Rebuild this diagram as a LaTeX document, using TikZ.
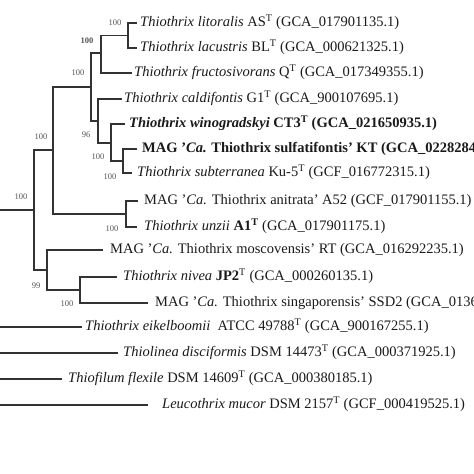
\documentclass[tikz,border=0pt]{standalone}
\usepackage{fontspec}
\setmainfont{Liberation Serif}
\definecolor{branch}{HTML}{333333}
\definecolor{txt}{HTML}{1A1A1A}
\definecolor{boot}{HTML}{555555}
\newcommand{\supT}{\textsuperscript{T}}
\begin{document}
\begin{tikzpicture}[x=1pt,y=-1pt,
  br/.style={draw=branch,line width=1.1pt},
  leaf/.style={anchor=mid west,inner sep=0pt,text=txt,font=\fontsize{14.5}{16}\selectfont},
  bs/.style={anchor=center,inner sep=0pt,text=boot,font=\fontsize{8.5}{9}\selectfont}]
\clip (0,0) rectangle (474,474);
\fill[white] (0,0) rectangle (474,474);
% leaf line ends
\coordinate (L1) at (137,23);
\coordinate (L2) at (137,48);
\coordinate (L3) at (132,73);
\coordinate (L4) at (122,99);
\coordinate (L5) at (125,124);
\coordinate (L6) at (137,149);
\coordinate (L7) at (132,173);
\coordinate (L8) at (138,201);
\coordinate (L9) at (137,227);
\coordinate (L10) at (103,250);
\coordinate (L11) at (117,277);
\coordinate (L12) at (148,303);
\coordinate (L13) at (82,327);
\coordinate (L14) at (118,353);
\coordinate (L15) at (62,379);
\coordinate (L16) at (148,405);
% internal nodes
\coordinate (n1) at (128,35.5);
\coordinate (n2) at (101,53);
\coordinate (n5) at (123,161);
\coordinate (n4) at (111,143);
\coordinate (n3) at (98,121);
\coordinate (n6) at (91,87);
\coordinate (n7) at (126,214);
\coordinate (n8) at (53,150);
\coordinate (n9) at (80,290);
\coordinate (n10) at (47,270);
\coordinate (n11) at (34,210);
\coordinate (r0) at (0,210);
\coordinate (o13) at (0,327);
\coordinate (o14) at (0,353);
\coordinate (o15) at (0,379);
\coordinate (o16) at (0,405);
% branches
\draw[br] (n1) |- (L1); \draw[br] (n1) |- (L2);
\draw[br] (n2) |- (n1); \draw[br] (n2) |- (L3);
\draw[br] (n5) |- (L6); \draw[br] (n5) |- (L7);
\draw[br] (n4) |- (L5); \draw[br] (n4) |- (n5);
\draw[br] (n3) |- (L4); \draw[br] (n3) |- (n4);
\draw[br] (n6) |- (n2); \draw[br] (n6) |- (n3);
\draw[br] (n7) |- (L8); \draw[br] (n7) |- (L9);
\draw[br] (n8) |- (n6); \draw[br] (n8) |- (n7);
\draw[br] (n9) |- (L11); \draw[br] (n9) |- (L12);
\draw[br] (n10) |- (L10); \draw[br] (n10) |- (n9);
\draw[br] (n11) |- (n8); \draw[br] (n11) |- (n10);
\draw[br] (r0) -- (n11);
\draw[br] (o13) -- (L13);
\draw[br] (o14) -- (L14);
\draw[br] (o15) -- (L15);
\draw[br,line width=1.4pt] (o16) -- (L16);
% labels
\node[leaf] (t1) at (140,24) {\textit{Thiothrix litoralis} AS\supT{} (GCA\_017901135.1)};
\node[leaf] (t2) at (140,49) {\textit{Thiothrix lacustris} BL\supT{} (GCA\_000621325.1)};
\node[leaf] (t3) at (134,74) {\textit{Thiothrix fructosivorans} Q\supT{} (GCA\_017349355.1)};
\node[leaf] (t4) at (124,100) {\textit{Thiothrix caldifontis} G1\supT{} (GCA\_900107695.1)};
\node[leaf] (t5) at (129,125) {\textbf{\textit{Thiothrix winogradskyi} CT3\supT{} (GCA\_021650935.1)}};
\node[leaf] (t6) at (142,150) {\textbf{MAG '\textit{Ca.} Thiothrix sulfatifontis' KT (GCA\_022828425.1)}};
\node[leaf] (t7) at (137,174) {\textit{Thiothrix subterranea} Ku-5\supT{} (GCF\_016772315.1)};
\node[leaf] (t8) at (144,202) {MAG '\textit{Ca.} Thiothrix anitrata' A52 (GCF\_017901155.1)};
\node[leaf] (t9) at (144,228) {\textit{Thiothrix unzii} \textbf{A1\supT} (GCA\_017901175.1)};
\node[leaf] (t10) at (110,251) {MAG '\textit{Ca.} Thiothrix moscovensis' RT (GCA\_016292235.1)};
\node[leaf] (t11) at (123,278) {\textit{Thiothrix nivea} \textbf{JP2}\supT{} (GCA\_000260135.1)};
\node[leaf] (t12) at (155,304) {MAG '\textit{Ca.} Thiothrix singaporensis' SSD2 (GCA\_013693355.1)};
\node[leaf] (t13) at (85,328) {\textit{Thiothrix eikelboomii}\ \ ATCC 49788\supT{} (GCA\_900167255.1)};
\node[leaf] (t14) at (123,354) {\textit{Thiolinea disciformis} DSM 14473\supT{} (GCA\_000371925.1)};
\node[leaf] (t15) at (68,380) {\textit{Thiofilum flexile} DSM 14609\supT{} (GCA\_000380185.1)};
\node[leaf] (t16) at (162,406) {\textit{Leucothrix mucor} DSM 2157\supT{} (GCF\_000419525.1)};
% bootstrap values
\node[bs] (b1) at (115,23) {100};
\node[bs,font=\fontsize{8.5}{9}\selectfont\bfseries] (b2) at (87,41) {100};
\node[bs] (b3) at (78,73) {100};
\node[bs] (b4) at (41,137) {100};
\node[bs] (b5) at (86,135) {96};
\node[bs] (b6) at (98,157) {100};
\node[bs] (b7) at (110,177) {100};
\node[bs] (b8) at (21,197) {100};
\node[bs] (b9) at (112,229) {100};
\node[bs] (b10) at (36,286) {99};
\node[bs] (b11) at (67,304) {100};
\end{tikzpicture}
\end{document}
